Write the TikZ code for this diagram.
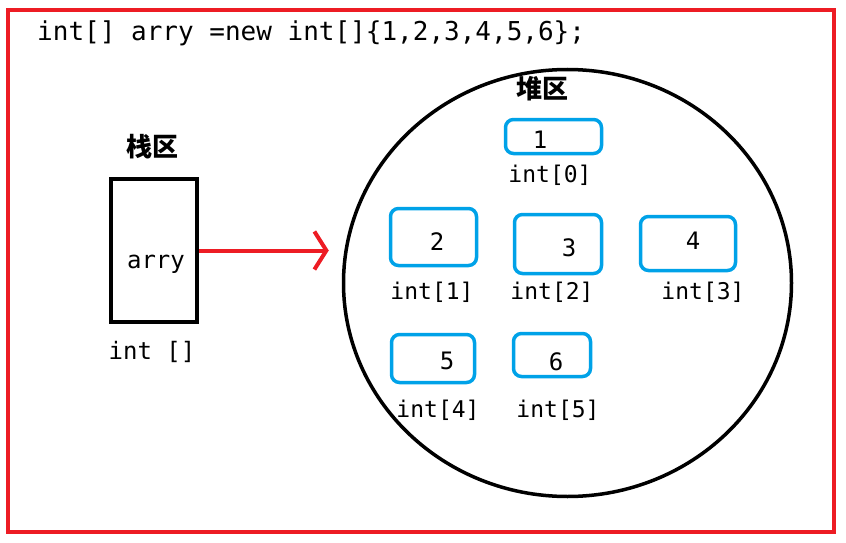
\documentclass[tikz,border=0pt]{standalone}
\usepackage{fontspec}
\setmonofont{DejaVu Sans Mono}
\newfontfamily\cjk{Noto Sans CJK SC}
\usetikzlibrary{arrows.meta,shapes.geometric}
\definecolor{paintred}{RGB}{237,28,36}
\definecolor{paintblue}{RGB}{0,162,232}
\tikzset{
	code/.style={font=\ttfamily\fontsize{#1}{#1}\selectfont, inner sep=0pt},
	zone/.style={font=\cjk\bfseries\fontsize{26}{26}\selectfont, inner sep=0pt},
	cell/.style={draw=paintblue, line width=3.5pt, rounded corners=8pt, inner sep=0pt},
}

\begin{document}
\begin{tikzpicture}[x=1pt, y=-1pt]
	\useasboundingbox (0,0) rectangle (846,543);
	\draw[paintred, line width=4.5pt] (8,10) rectangle (834,532);

	\node[code=26, anchor=west] (decl) at (37,33) {int[] arry =new int[]\{1,2,3,4,5,6\};};

	% stack
	\node[zone] (stacktitle) at (152,147) {栈区};
	\node[draw, line width=4.5pt, minimum width=86pt, minimum height=143pt] (stack) at (154,250.5) {};
	\node[code=24] (arry) at (156,264) {arry};
	\node[code=24] (arrytype) at (152,352) {int []};

	% heap
	\node[draw, line width=3.5pt, ellipse, minimum width=448pt, minimum height=427pt] (heap) at (567.5,283) {};
	\node[zone] (heaptitle) at (542,89) {堆区};

	\foreach \i/\cx/\cy/\w/\h/\nx/\ny/\lx/\ly in {
		0/553.5/136.5/96/34/540/140/550/175,
		1/433.5/237/86/57/437/242/432/292,
		2/558/244/87/59/569/248/552/292,
		3/688/243.5/95/54/693/241/703/292,
		4/433/358.5/83/48/447/361/438/410,
		5/552/355/77/43/556/362/558/410}
	{
		\node[cell, minimum width=\w pt, minimum height=\h pt] (c\i) at (\cx,\cy) {};
		\pgfmathtruncatemacro\val{\i+1}
		\node[code=24] (n\i) at (\nx,\ny) {\val};
		\node[code=23] (t\i) at (\lx,\ly) {int[\i]};
	}

	\draw[paintred, line width=4pt, -{Straight Barb[length=12pt, width=38pt, line width=4pt]}, shorten >=13pt]
		(stack.east) -- (stack.east -| heap.west);
\end{tikzpicture}
\end{document}
